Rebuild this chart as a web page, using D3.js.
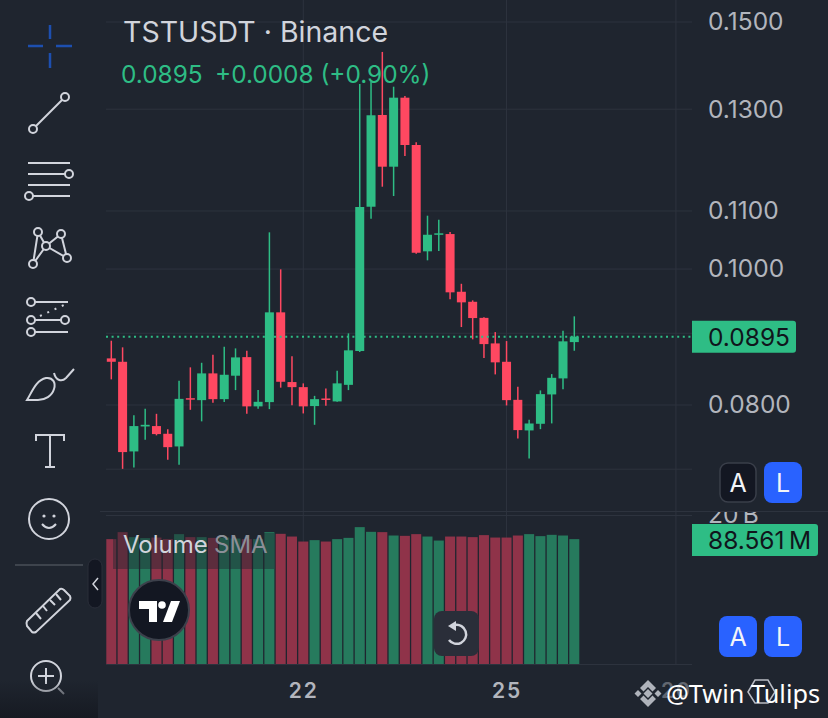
<!DOCTYPE html>
<html>
<head>
<meta charset="utf-8">
<script src="https://cdn.jsdelivr.net/npm/d3@7"></script>
<style>
  html, body { margin: 0; padding: 0; background: #1f252f; overflow: hidden; }
  text { font-family: Inter, "Noto Sans", sans-serif; }
</style>
</head>
<body>
<div id="container"></div>
<script>
// DATA (4h candles)

const opens = [.08636,.08588,.07413,.07723,.07728,.07631,.07474,.08090,.08064,.08426,.08077,.08394,.08654,.07982,.08038,.09314,.08307,.08238,.07986,.08086,.08047,.08269,.08741,.11077,.12877,.11829,.13248,.12258,.10295,.10579,.10591,.09634,.09477,.09230,.08851,.08588,.08068,.07673,.07757,.08140,.08357,.0887]
const highs = [.08890,.08794,.07865,.07950,.07885,.07689,.08324,.08510,.08574,.08687,.08803,.08779,.08745,.08198,.10621,.09995,.08668,.08289,.08121,.08221,.08462,.08998,.13550,.13594,.14281,.13489,.13285,.12313,.10915,.10843,.10626,.09761,.09499,.09238,.09017,.08885,.08242,.07808,.08194,.08416,.09036,.09253]
const lows = [.08344,.07204,.07221,.07556,.07611,.07312,.07252,.07937,.07788,.08029,.08038,.08198,.07885,.07950,.07946,.08231,.07998,.07890,.07744,.07989,.08044,.08198,.08726,.10861,.11447,.11273,.12039,.10254,.10144,.10300,.09515,.09092,.08910,.08640,.08412,.07994,.07573,.07328,.07689,.07762,.08210,.08745]
const closes = [.08588,.07405,.07728,.07744,.07627,.07465,.08081,.08073,.08426,.08077,.08407,.08650,.07982,.08042,.09314,.08311,.08238,.07982,.08077,.08068,.08289,.08751,.11072,.12871,.11829,.13248,.12258,.10271,.10579,.10604,.09625,.09468,.09227,.08841,.08580,.08064,.07677,.07761,.08144,.08365,.08881,.0895]
const volumes = [88.6,411,141,112,128,88.6,283,141,141,119,128,102,88.6,88.6,451,304,162,50.7,70.2,50.7,88.6,119,1443,484,451,205,190,283,162,63.9,162,162,141,225,128,128,205,283,178,241,205,88.561]

const priceTicks = [0.15, 0.13, 0.11, 0.10, 0.08]
const priceGrid = [0.15, 0.13, 0.11, 0.10, 0.09, 0.08, 0.072]
const dayBars = [17, 35, 50]
const dayLabels = ["22", "25", "20"]

const lastPrice = 0.0895
const lastVolume = 88.561

// VARIABLES

const width = 828, height = 718
const plotLeft = 106, plotRight = 692
const bodyWidth = 9
const green = "#2ebd85", red = "#ff4861"
const volGreen = "#267a5d", volRed = "#8f3349"
const grid = "#2d333e", ink = "#d1d4dc", tickInk = "#b2b5bd"

// SCALES

const xScale = d3.scaleLinear().domain([0, 41]).range([111.3, 574.3])

const yScale = d3.scaleLog().domain([0.15, 0.08]).range([22, 405])

const volScale = d3.scaleLog().domain([2.25e-11, 20000]).range([664, 515.8])

// ELEMENTS

const mySVG = d3.select("#container")
  .append("svg")
  .attr("width", width)
  .attr("height", height)
  .style("display", "block")

mySVG.append("rect").attr("width", width).attr("height", height).attr("fill", "#1f252f")

mySVG.append("defs").append("clipPath").attr("id", "volPane")
  .append("rect").attr("x", 692).attr("y", 512).attr("width", 136).attr("height", 160)

// grid
mySVG.append("g").selectAll("line")
  .data(priceGrid)
  .join("line")
  .attr("x1", plotLeft).attr("x2", plotRight)
  .attr("y1", d => yScale(d)).attr("y2", d => yScale(d))
  .attr("stroke", grid)

mySVG.append("g").selectAll("line")
  .data(dayBars)
  .join("line")
  .attr("x1", d => xScale(d)).attr("x2", d => xScale(d))
  .attr("y1", 0).attr("y2", 664)
  .attr("stroke", grid)

mySVG.append("line").attr("x1", 100).attr("x2", width).attr("y1", 511.5).attr("y2", 511.5).attr("stroke", grid)
mySVG.append("line").attr("x1", plotLeft).attr("x2", plotRight).attr("y1", 515.5).attr("y2", 515.5).attr("stroke", grid)
mySVG.append("line").attr("x1", plotLeft).attr("x2", plotRight).attr("y1", 664.5).attr("y2", 664.5).attr("stroke", grid)

// price axis
const yAxis = d3.axisRight(yScale)
  .tickValues(priceTicks)
  .tickFormat(d3.format(".4f"))
  .tickSize(0)
  .tickPadding(0)

const yAxisG = mySVG.append("g")
  .attr("transform", "translate(708,0)")
  .call(yAxis)
yAxisG.select(".domain").remove()
yAxisG.selectAll("text")
  .attr("fill", tickInk)
  .style("font-size", "24.5px")
  .style("font-family", "Inter, sans-serif")

// time axis
const xAxis = d3.axisBottom(xScale)
  .tickValues(dayBars)
  .tickFormat((d, i) => dayLabels[i])
  .tickSize(0)
  .tickPadding(0)

const xAxisG = mySVG.append("g")
  .attr("transform", "translate(0,683)")
  .call(xAxis)
xAxisG.select(".domain").remove()
xAxisG.selectAll("text")
  .attr("fill", tickInk)
  .style("font-size", "21px")
  .style("font-weight", "600")
  .style("letter-spacing", "2px")
  .style("font-family", "Inter, sans-serif")
xAxisG.selectAll("g.tick").filter((d, i) => i == 2).attr("opacity", .45)

// volume bars
mySVG.append("g").selectAll("rect")
  .data(volumes)
  .join("rect")
  .attr("x", (d, i) => xScale(i) - 5)
  .attr("width", 10)
  .attr("y", d => volScale(d))
  .attr("height", d => 664 - volScale(d))
  .attr("fill", (d, i) => closes[i] >= opens[i] ? volGreen : volRed)

// wicks
mySVG.append("g").selectAll("line")
  .data(highs)
  .join("line")
  .attr("x1", (d, i) => xScale(i)).attr("x2", (d, i) => xScale(i))
  .attr("y1", d => yScale(d))
  .attr("y2", (d, i) => yScale(lows[i]))
  .attr("stroke", (d, i) => closes[i] >= opens[i] ? green : red)
  .attr("stroke-width", 1.5)

// bodies
mySVG.append("g").selectAll("rect")
  .data(closes)
  .join("rect")
  .attr("x", (d, i) => xScale(i) - bodyWidth / 2)
  .attr("width", bodyWidth)
  .attr("y", (d, i) => yScale(Math.max(d, opens[i])))
  .attr("height", (d, i) => Math.max(1.5, Math.abs(yScale(d) - yScale(opens[i]))))
  .attr("fill", (d, i) => d >= opens[i] ? green : red)

// last price line
mySVG.append("line")
  .attr("x1", plotLeft).attr("x2", plotRight)
  .attr("y1", yScale(lastPrice)).attr("y2", yScale(lastPrice))
  .attr("stroke", green)
  .attr("stroke-width", 2)
  .attr("stroke-dasharray", "2 3.6")

// price tags
function tag(x, y, w, label) {
  mySVG.append("path")
    .attr("d", `M${x},${y - 16}H${x + w - 3}q3,0 3,3V${y + 13}q0,3 -3,3H${x}Z`)
    .attr("fill", green)
  mySVG.append("text")
    .attr("x", x + 16).attr("y", y + 9)
    .attr("fill", "#10151c")
    .style("font-size", "24.5px")
    .text(label)
}
tag(692, yScale(lastPrice), 104, d3.format(".4f")(lastPrice))

mySVG.append("text").attr("x", 708).attr("y", 523).attr("fill", tickInk)
  .attr("clip-path", "url(#volPane)")
  .style("font-size", "24.5px").text("20\u2009B")
tag(692, volScale(lastVolume) + 0.9, 126, `${lastVolume}\u2009M`)

// header
mySVG.append("text").attr("x", 123).attr("y", 42).attr("fill", ink)
  .style("font-size", "28.5px").text("TSTUSDT · Binance")
mySVG.append("text").attr("x", 121).attr("y", 83).attr("fill", green)
  .style("font-size", "24.4px")
  .text(`${lastPrice}`)
mySVG.append("text").attr("x", 215).attr("y", 83).attr("fill", green)
  .style("font-size", "24.4px")
  .text("+0.0008 (+0.90%)")

// volume legend
mySVG.append("rect").attr("x", 113).attr("y", 533).attr("width", 161).attr("height", 36)
  .attr("fill", "#1f252f").attr("opacity", .45)
mySVG.append("text").attr("x", 123).attr("y", 553).attr("fill", ink)
  .style("font-size", "24px").text("Volume")
mySVG.append("text").attr("x", 214).attr("y", 553).attr("fill", "#8b8f98")
  .style("font-size", "24px").text("SMA")

// A / L buttons
function btn(x, y, w, h, label, fill, stroke) {
  mySVG.append("rect").attr("x", x).attr("y", y).attr("width", w).attr("height", h).attr("rx", 8)
    .attr("fill", fill).attr("stroke", stroke || "none").attr("stroke-width", 1.5)
  mySVG.append("text").attr("x", x + w / 2).attr("y", y + h / 2 + 9).attr("text-anchor", "middle")
    .attr("fill", "#f2f4f8").style("font-size", "25px").text(label)
}
btn(720, 463, 36, 39, "A", "#131722", "#3a3f4a")
btn(764, 462, 38, 41, "L", "#2962ff")
btn(719, 616, 38, 41, "A", "#2962ff")
btn(764, 616, 38, 41, "L", "#2962ff")

// toolbar icons
const icons = mySVG.append("g").attr("fill", "none").attr("stroke", ink).attr("stroke-width", 2)
const ring = (x, y, r) => icons.append("circle").attr("cx", x).attr("cy", y).attr("r", r || 4).attr("fill", "#1f252f")
const stroke = (d, c) => icons.append("path").attr("d", d).attr("stroke", c || ink)

stroke("M50,25V39M50,53V68M28,46H43M56,46H72", "#1d4faf").attr("stroke-width", 2.5)

stroke("M33,129L65,97"); ring(65, 97); ring(33, 129)

stroke("M28,163H70M28,174H65M28,185H70M33,196H70"); ring(69, 174); ring(29, 196)

stroke("M38,232L33,264L46,246L67,258L61,234L46,246L38,232")
ring(38, 232); ring(61, 234); ring(46, 246); ring(67, 258); ring(33, 264)

stroke("M31,302H68M31,320H65M31,332H68")
stroke("M40,316L64,305").attr("stroke-dasharray", "2 6")
ring(31, 302); ring(31, 320); ring(65, 320); ring(31, 332)

stroke("M27,400C32,392 36,380 46,378C53,377 56,383 54,389C52,396 45,400 38,400Z")
stroke("M54,373C56,381 62,382 66,378L74,369")

stroke("M36,441V435H64V441M50,435V467M45,467H55")

icons.append("circle").attr("cx", 49).attr("cy", 519).attr("r", 20)
stroke("M42,524Q49,532 56,524")
icons.append("circle").attr("cx", 44).attr("cy", 516).attr("r", 1.6).attr("fill", ink).attr("stroke", "none")
icons.append("circle").attr("cx", 54).attr("cy", 516).attr("r", 1.6).attr("fill", ink).attr("stroke", "none")

mySVG.append("line").attr("x1", 15).attr("x2", 83).attr("y1", 565).attr("y2", 565).attr("stroke", "#4a4f59").attr("stroke-width", 1.5)

stroke("M27,621L60,589Q62,588 64,590L70,596Q71,598 70,600L36,632Q34,633 32,632L27,626Q26,623 27,621Z")
stroke("M36,613L41,619M43,606L47,611M50,600L55,605M56,594L61,600")

icons.append("circle").attr("cx", 46).attr("cy", 676).attr("r", 15)
stroke("M38,676H54M46,668V684")
stroke("M58,688L64,694").attr("opacity", .7)

// fade at foot of the toolbar
const fade = mySVG.select("defs").append("linearGradient")
  .attr("id", "fade").attr("x1", 0).attr("x2", 0).attr("y1", 0).attr("y2", 1)
fade.append("stop").attr("offset", 0).attr("stop-color", "#161a22").attr("stop-opacity", 0)
fade.append("stop").attr("offset", 1).attr("stop-color", "#161a22").attr("stop-opacity", 1)
mySVG.append("rect").attr("x", 0).attr("y", 680).attr("width", 98).attr("height", 38).attr("fill", "url(#fade)")

// collapse pill
mySVG.append("rect").attr("x", 88).attr("y", 559).attr("width", 14).attr("height", 49).attr("rx", 7)
  .attr("fill", "#131722").attr("stroke", "#2a2e39")
mySVG.append("path").attr("d", "M98,578L93,584L98,590").attr("fill", "none").attr("stroke", ink).attr("stroke-width", 1.5)

// TV logo
mySVG.append("circle").attr("cx", 159).attr("cy", 610).attr("r", 30)
  .attr("fill", "#131722").attr("stroke", "#3c404b").attr("stroke-width", 2)
mySVG.append("path").attr("d", "M139,601H157V622H149V609H139Z").attr("fill", "#fff")
mySVG.append("circle").attr("cx", 162).attr("cy", 605).attr("r", 3.8).attr("fill", "#fff")
mySVG.append("path").attr("d", "M171,601H180L172,622H163Z").attr("fill", "#fff")

// reset button
mySVG.append("rect").attr("x", 434).attr("y", 611).attr("width", 45).attr("height", 45).attr("rx", 8)
  .attr("fill", "#2a2e39")
mySVG.append("path").attr("d", "M455,625A9.5,9.5 0 1 1 449,640")
  .attr("fill", "none").attr("stroke", ink).attr("stroke-width", 2.5)
mySVG.append("path").attr("d", "M456,621L448,626L456,631Z").attr("fill", ink)

// watermark
mySVG.append("path")
  .attr("d", "M648,680L656,688L652.5,691.5L648,687L643.5,691.5L640,688Z"
    + "M648,707L656,699L652.5,695.5L648,700L643.5,695.5L640,699Z"
    + "M648,689L652.5,693.5L648,698L643.5,693.5Z"
    + "M638,690L641.5,693.5L638,697L634.5,693.5Z"
    + "M658,690L661.5,693.5L658,697L654.5,693.5Z")
  .attr("fill", "#c9ccd3").attr("opacity", .85)
mySVG.append("path").attr("d", "M748,692L755,680H768L775,692L768,703H755Z")
  .attr("fill", "none").attr("stroke", "#b9bcc4").attr("stroke-width", 1.5)
mySVG.append("text").attr("x", 666).attr("y", 703).attr("fill", "#fff")
  .style("font-family", '"Noto Sans", sans-serif')
  .style("font-size", "25.3px")
  .text("@Twin Tulips")
</script>
</body>
</html>
